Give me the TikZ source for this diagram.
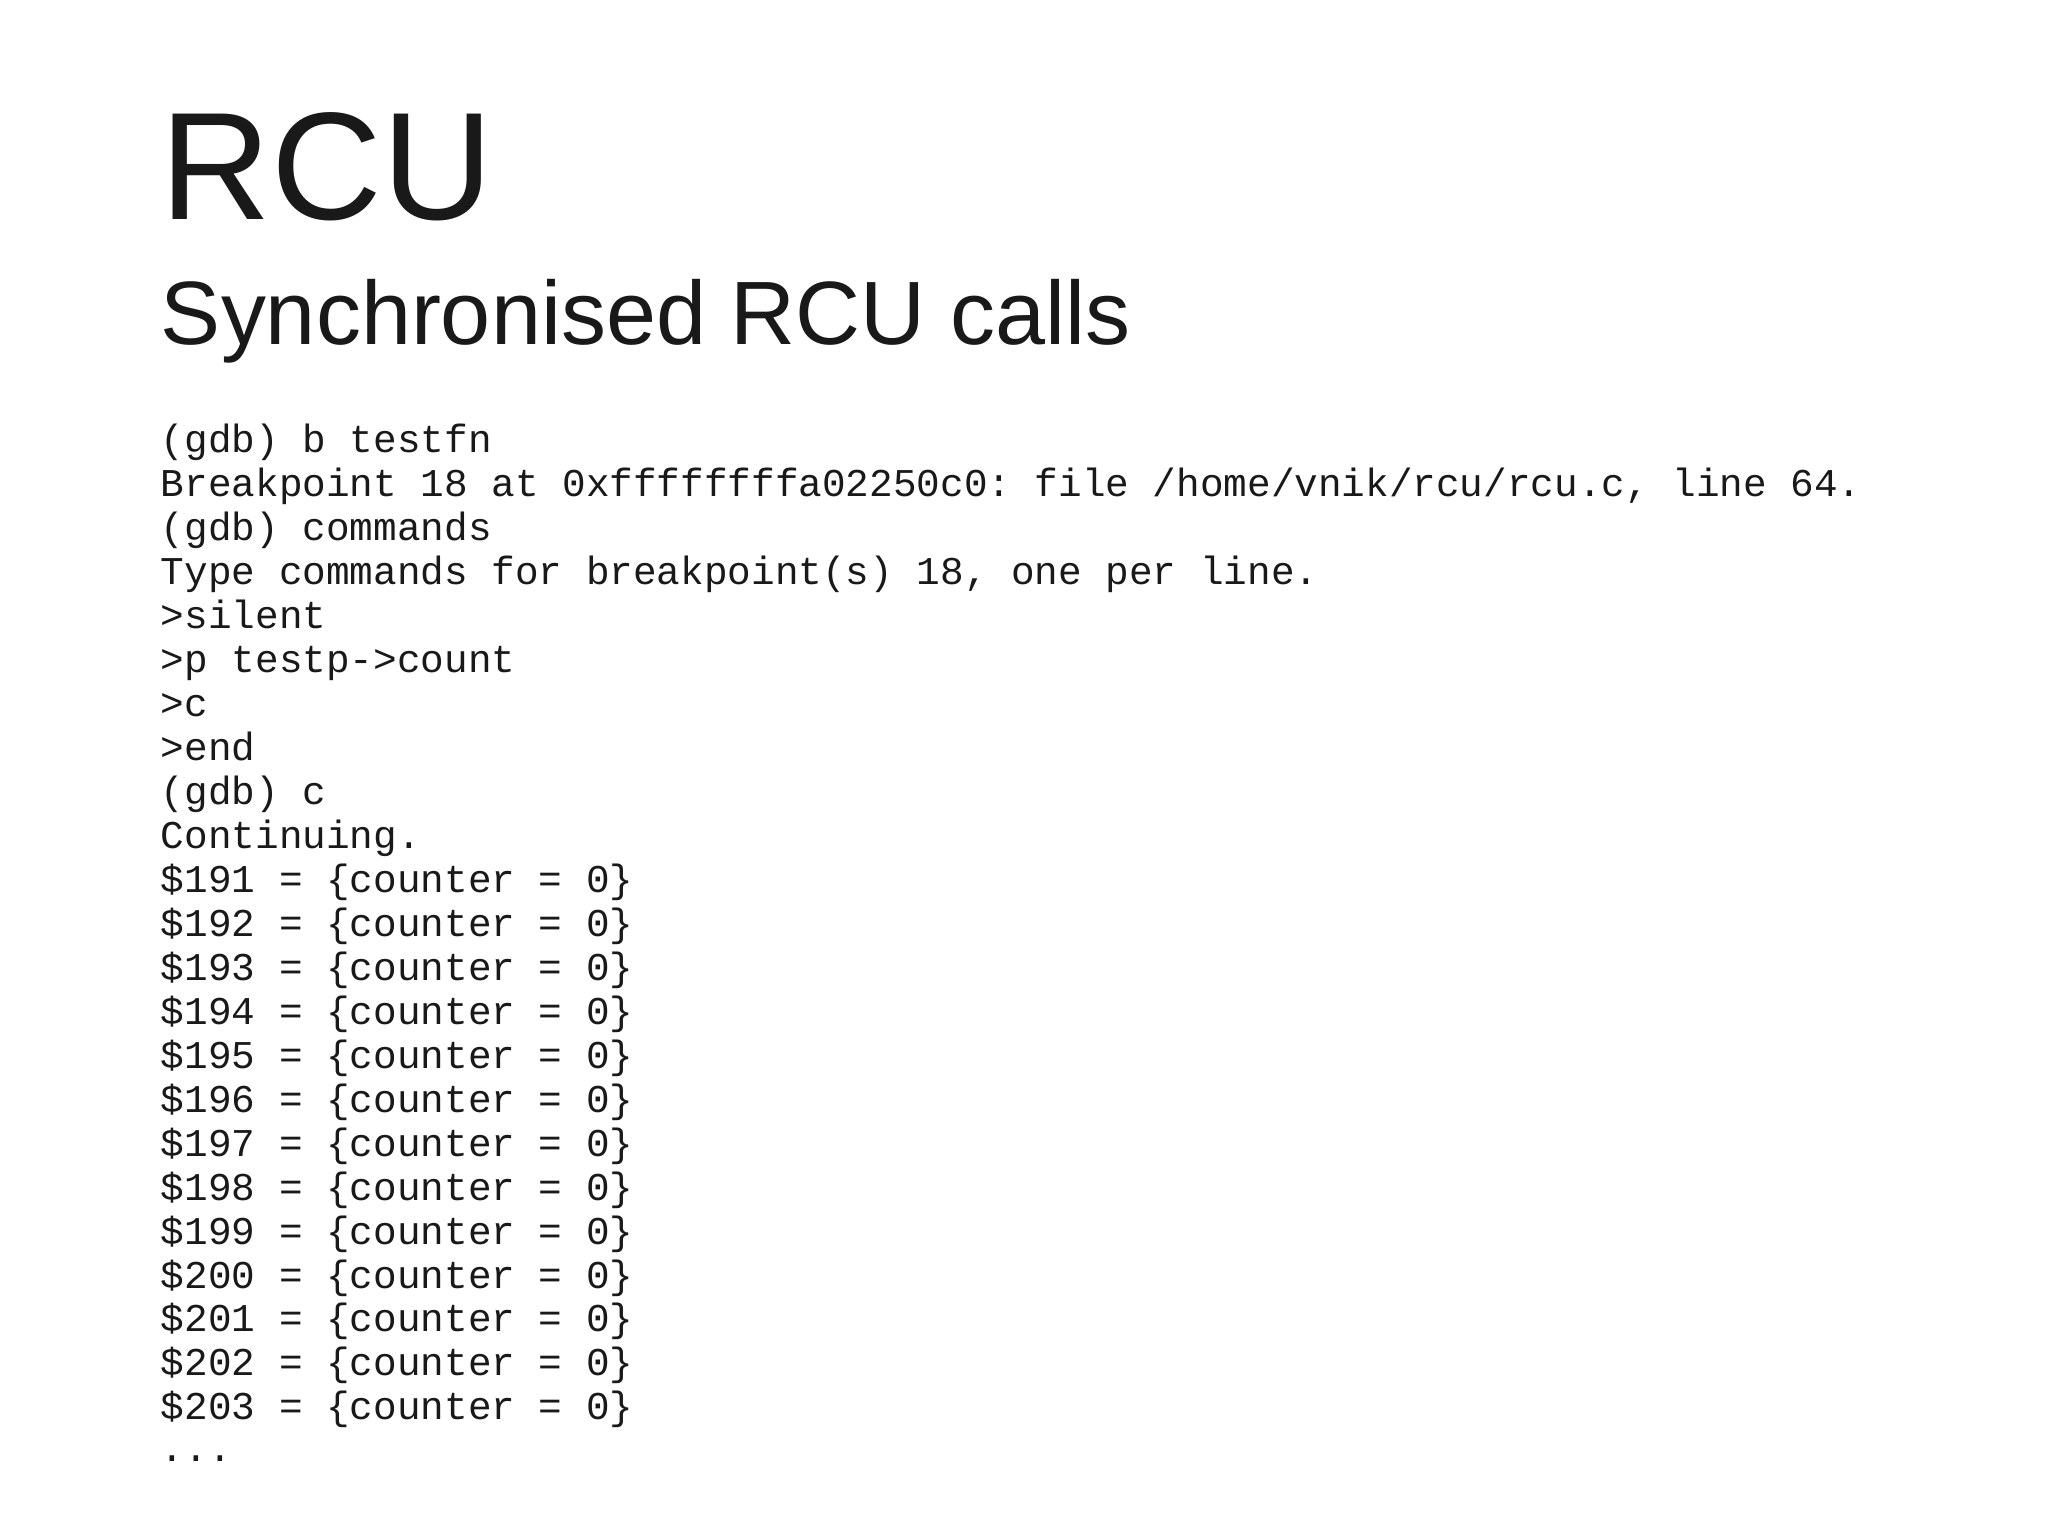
\documentclass[tikz,border=0pt]{standalone}
\usepackage{fontspec}
\setmainfont{Liberation Sans}
\setmonofont{Liberation Mono}
\begin{document}
\begin{tikzpicture}[x=1cm,y=1cm,
  txt/.style={anchor=base west,inner sep=0pt,outer sep=0pt,text=black!90},
  code/.style={txt,font=\fontsize{11.2pt}{13pt}\ttfamily}]
\useasboundingbox (0,0) rectangle (20.48,15.36);
\node[txt,font=\fontsize{43.6pt}{46pt}\selectfont] (title) at (1.61,13.16) {RCU};
\node[txt,font=\fontsize{25.6pt}{28pt}\selectfont] (sub) at (1.61,11.91) {Synchronised RCU calls};
\node[code] (l1) at (1.61,10.830) {(gdb) b testfn};
\node[code] (l2) at (1.61,10.3905) {Breakpoint 18 at 0xffffffffa02250c0: file /home/vnik/rcu/rcu.c, line 64.};
\node[code] (l3) at (1.61,9.951) {(gdb) commands};
\node[code] (l4) at (1.61,9.5115) {Type commands for breakpoint(s) 18, one per line.};
\node[code] (l5) at (1.61,9.072) {>silent};
\node[code] (l6) at (1.61,8.6325) {>p testp->count};
\node[code] (l7) at (1.61,8.193) {>c};
\node[code] (l8) at (1.61,7.7535) {>end};
\node[code] (l9) at (1.61,7.314) {(gdb) c};
\node[code] (l10) at (1.61,6.8745) {Continuing.};
\foreach \n [count=\i from 0] in {191,...,203}{
  \node[code] (v\n) at (1.61,6.435-0.4395*\i) {\$\n{} = \{counter = 0\}};
}
\node[code] (dots) at (1.61,0.7485) {...};
\end{tikzpicture}
\end{document}
